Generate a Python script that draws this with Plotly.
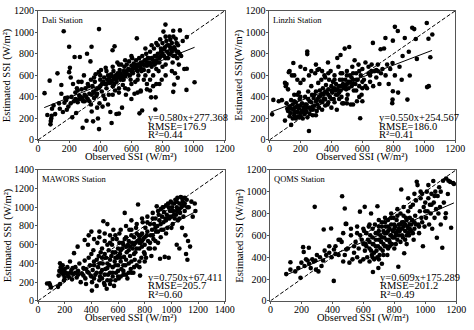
import plotly.graph_objects as go

# ---------------- data: (observed, estimated) pairs per station ----------------
dali_pts = [
    (42,435),(60,232),(75,551),(80,145),(82,175),(85,200),(88,225),(90,290),(100,320),(110,240),
    (125,619),(135,340),(140,290),(150,430),(150,510),(160,260),(165,1010),(170,345),(175,390),(180,370),
    (185,280),(190,395),(195,310),(200,866),(200,630),(205,670),(210,580),(210,340),(215,400),(220,210),
    (225,520),(230,360),(235,771),(240,440),(245,250),(250,375),
    (255,460),(260,540),(269,771),(270,380),(275,400),(280,470),(287,113),(290,360),(295,600),(300,420),
    (305,480),(312,179),(315,801),(320,380),(325,500),(330,430),(337,730),(340,560),(344,866),(345,265),
    (350,500),(354,173),(355,450),(360,390),(365,540),(370,610),(375,470),(380,430),(385,200),(390,630),
    (392,1030),(392,101),(395,340),(400,500),(400,560),(405,650),(410,450),(415,310),(420,410),(425,580),(430,520),
    (435,670),(440,480),(445,560),(450,600),(455,420),(460,530),(465,260),(470,610),(473,158),(475,550),
    (479,834),(480,500),(485,640),(490,570),(492,870),(495,460),(500,600),(504,241),(505,540),(510,720),
    (512,620),(515,580),(520,245),(520,480),(525,650),(530,560),(535,700),(540,600),(545,510),(550,640),
    (555,680),(560,590),(565,420),(570,700),(575,610),(580,470),(585,730),(590,650),(595,560),(600,690),(600,380),
    (605,760),(610,620),(615,710),(620,670),(625,540),(630,740),(635,944),(635,650),(640,700),(645,600),
    (650,760),(652,247),(655,680),(660,720),(665,640),(669,274),(670,780),(675,700),(680,650),(685,740),
    (690,600),(695,800),(700,690),(700,470),(705,760),(710,640),(715,720),(720,820),(727,396),(730,680),
    (735,750),(740,600),(745,850),(750,700),(754,283),(756,396),(760,780),(765,720),(770,880),(775,640),
    (780,760),(785,935),(790,820),(795,560),(800,900),
    (806,1007),(810,780),(815,860),(819,1072),(820,700),(825,920),(830,820),(835,760),(840,880),(845,960),
    (850,800),(855,840),(860,900),(865,720),(869,1015),(869,447),(875,515),(875,860),(880,780),(885,940),
    (890,820),(895,760),(898,578),(900,880),(905,700),(910,800),(912,1018),(920,780),(930,920),(940,660),
    (954,465),(956,956),(956,661),(1006,536),
    (240,380),(255,350),(265,410),(285,390),(300,360),(310,400),(330,360),(345,420),(360,440),(375,410),
    (390,480),(410,520),(420,540),(440,520),(450,560),(460,580),(470,540),(480,590),(490,520),(500,560),
    (510,580),(520,600),(530,620),(540,580),(550,560),(560,620),(570,640),(580,660),(590,600),(600,640),
    (610,660),(620,700),(630,680),(640,640),(650,700),(660,660),(670,720),(680,700),(690,740),(700,720),
    (710,760),(720,700),(730,760),(740,720),(750,780),(760,740),(770,800),(780,720),(790,780),(800,800),
    (810,840),(820,760),(830,880),(840,800),(850,860),(860,820),(870,780),(880,840),(890,900),(900,820),
    (760,660),(800,680),(720,560),(680,560),(640,560),(600,520),(560,480),(520,440),(480,420),(430,380),
    (380,300),(340,330),(450,330),(540,300),(620,430),(660,460),(700,520),(740,500),(780,520),(820,600),
    (860,640),(880,620),(690,850),(730,880),(760,900),(790,850),(820,960),(850,930),(870,960),(600,780),
    (560,740),(520,700),(480,680),(440,640),(400,600),(360,580),(320,520),(280,540),(250,480),
    (640,440),(660,450),(760,520),(720,460),
]

linzhi_pts = [
    (17,238),(25,372),(60,360),(80,370),(100,180),(100,530),(105,500),(110,340),(115,290),(120,470),
    (125,630),(130,220),(130,310),(135,250),(140,370),(140,140),(145,600),(150,200),(150,330),(154,715),
    (155,280),(160,420),(160,230),(165,300),(170,350),(170,200),(175,260),(180,560),(180,320),(185,220),
    (190,440),(190,290),(195,380),(200,250),(200,680),(205,210),(210,340),(215,200),(220,560),(220,300),
    (225,240),(230,660),(230,400),(235,270),(240,330),(244,822),(244,798),(245,210),(250,450),(255,83),
    (255,600),(260,360),(265,280),(270,500),(275,420),(280,230),
    (285,390),(290,320),(295,620),(300,450),(305,270),(310,650),(310,380),(315,530),(320,300),(325,460),
    (330,410),(335,560),(340,350),(345,480),(350,420),(355,600),(360,380),(365,510),(370,440),(375,330),
    (378,720),(380,470),(385,560),(390,400),(395,640),(400,500),(400,300),(405,440),(410,540),(415,380),
    (420,600),(425,460),(430,520),(435,280),(438,762),(440,420),(445,680),(450,500),(455,560),(459,789),
    (460,460),(465,400),(470,620),(475,520),(480,340),(486,849),(490,560),(495,470),(500,640),(505,420),
    (510,540),(515,864),(520,600),(525,330),(530,500),(535,680),(540,560),(545,460),(550,740),(555,520),
    (560,620),(565,360),(570,560),(575,700),(580,500),(586,202),(590,600),(595,420),(600,660),
    (610,560),(620,720),(630,480),(640,620),(650,540),(660,700),(668,902),(670,500),(680,640),(690,580),
    (700,700),(710,520),(718,843),(730,660),(740,850),(749,947),(750,600),(760,700),(770,520),(780,660),
    (793,342),(795,375),(795,715),(797,923),(797,453),(810,1051),(810,600),(829,1012),(831,440),(840,680),
    (854,560),(860,780),(874,947),(891,375),(900,820),(906,599),(922,1042),(935,1030),(945,938),(952,753),
    (1016,1087),(1018,491),(1027,941),(1029,500),(1039,768),(1052,980),
    (120,270),(140,290),(160,360),(180,260),(200,320),(210,270),(230,330),(250,380),(270,350),(290,420),
    (300,360),(320,400),(340,430),(360,450),(380,420),(400,460),(420,480),(440,470),(460,500),(480,480),
    (500,520),(520,540),(540,520),(560,560),(380,350),(350,380),(330,360),(310,330),(280,310),(260,300),
    (240,260),(220,260),(200,220),(190,210),(160,250),(430,420),(450,440),(470,560),(490,500),(510,480),
    (530,580),(420,350),(400,380),(360,320),(340,280),(300,230),(280,280),(260,240),(240,300),(200,400),
    (180,420),(450,380),(500,380),(560,460),(600,480),(620,500),(650,600),(690,650),(720,620),(580,640),
    (540,620),(500,600),(460,620),(420,560),(380,620),(340,640),(320,660),(270,640),(200,530),(160,600),
    (130,640),(110,520),(300,700),(360,580),(600,540),(640,680),(660,640),(700,640),
    (470,340),(500,340),(540,330),(600,360),(580,400),
]

mawors_pts = [
    (68,186),(85,189),(97,144),(90,170),(150,150),(165,180),(165,402),(170,360),(175,300),(180,330),
    (190,280),(200,250),(155,270),(160,320),(185,380),(200,340),(195,220),
    (210,300),(220,360),(230,260),(240,420),(250,330),(255,230),(260,290),(270,510),(280,360),(290,250),
    (297,579),(300,320),(310,400),(320,200),(330,290),(340,350),(350,430),(355,240),(360,180),(370,310),
    (375,600),(380,460),(390,380),(395,270),(400,500),(404,110),(400,740),(405,200),(410,330),(415,540),
    (420,420),(430,280),(440,160),(445,620),(450,360),(455,480),
    (460,740),(465,260),(470,300),(480,560),(485,400),(490,850),(495,190),(500,640),(505,340),(510,460),
    (515,130),(520,820),(525,280),(530,540),(535,380),(540,700),(545,220),(550,480),(555,600),(560,360),
    (565,760),(570,160),(575,420),(580,520),(585,300),(590,660),(595,460),(600,380),(600,560),
    (605,240),(610,720),(615,500),(620,420),(625,340),(630,560),(635,620),(640,280),(645,470),(650,940),
    (655,380),(660,680),(665,520),(670,240),(675,600),(680,400),(685,760),(690,480),(695,340),(700,860),
    (705,620),(710,560),(715,300),(720,680),(725,440),(730,520),(735,780),(740,380),(745,640),(750,1030),
    (755,700),(760,560),(765,270),(770,620),(775,460),(780,720),(785,840),(790,660),(795,520),(800,600),
    (805,780),(810,460),(815,700),(820,900),(825,640),(830,560),(840,820),(845,700),(850,480),(855,760),
    (860,940),(865,660),(870,820),(875,560),(880,880),(885,740),(890,1010),(895,800),(900,620),(905,920),
    (910,860),(915,450),(920,980),(925,760),(930,900),(935,1000),(940,840),(945,950),(950,470),(955,880),
    (960,1020),(965,920),(970,780),(975,1040),(980,460),(985,880),(990,960),(995,1060),(1000,900),
    (1005,1000),(1010,820),(1015,960),(1020,1040),(1025,880),(1030,1080),(1035,920),(1040,600),(1040,1000),
    (1045,1100),(1050,860),(1055,980),(1060,560),(1060,1040),(1065,940),(1070,1110),(1075,1000),(1080,780),
    (1085,1060),(1090,900),(1095,1020),(1100,960),(1105,700),(1110,500),(1115,1080),(1120,440),(1125,640),
    (1130,1000),(1140,580),(1150,1060),(1160,900),(1175,1040),(1180,960),
    (420,380),(440,300),(460,400),(480,330),(500,280),(520,400),(540,300),(560,260),(580,380),(600,320),
    (620,460),(640,380),(660,440),(680,540),(700,420),(720,500),(740,560),(760,620),(780,580),(800,680),
    (820,740),(840,620),(860,700),(880,780),(900,740),(920,820),(940,760),(960,860),(980,900),(1000,960),
    (1020,920),(1040,960),(1060,980),(1080,1020),(1100,1040),(480,460),(500,500),(520,350),(540,440),
    (560,520),(580,460),(600,480),(620,540),(640,600),(660,580),(680,640),(700,700),(720,600),(740,720),
    (760,660),(780,640),(300,280),(280,300),(260,350),(240,300),(220,280),(200,300),(340,270),(360,340),
    (380,300),(400,260),(420,240),(480,240),(520,220),(560,300),(600,260),(640,320),(680,300),(720,360),
    (760,420),(800,500),(350,650),(380,700),(420,660),(460,680),(500,720),(540,620),(580,700),(620,760),
    (660,800),(700,760),(740,820),(780,880),(820,840),(860,880),(900,960),(940,1000),(980,1000),(1000,1050),
    (1040,1060),(1080,1100),(1120,1000),(1100,1100),(1060,880),(1000,780),(960,720),(920,680),(880,640),
    (840,560),(800,420),(760,360),(700,300),(660,280),(620,260),(580,220),(540,180),(500,170),(460,220),
    (440,440),(470,520),(520,600),(560,660),(610,620),(650,660),(690,580),(730,620),(770,700),
]

qoms_pts = [
    (102,245),(129,286),(129,354),(160,270),(180,300),(194,212),(200,350),(211,492),(215,448),(220,320),
    (240,370),(248,486),(250,340),(270,380),(286,861),(290,370),(294,286),(310,270),(330,320),(344,654),
    (360,420),(380,440),(392,663),(395,400),(409,183),(410,470),(420,430),(440,420),(450,560),(460,540),
    (463,958),(470,360),(480,846),(480,420),(486,705),(490,705),(490,470),(500,480),(510,350),(520,600),
    (530,380),(540,440),(550,540),(560,400),(570,480),(578,817),(580,360),(590,560),(600,380),(605,640),
    (609,861),(610,460),
    (615,520),(620,620),(625,400),(630,560),(635,680),(640,480),(645,600),(650,800),(655,420),(660,660),
    (662,265),(665,520),(670,380),(675,700),(680,560),(685,460),(690,620),(691,867),(695,500),(697,301),
    (700,680),(705,420),(710,600),(715,540),(720,720),(725,460),(730,640),(735,580),(740,500),(745,680),
    (750,620),(755,420),(760,740),(765,560),(770,660),(775,600),(780,700),(785,520),(790,640),(795,760),(800,580),
    (805,680),(810,620),(815,740),(820,560),(826,312),(830,700),(835,640),(840,800),(845,1020),(850,660),
    (855,580),(860,720),(864,436),(870,640),(875,760),(880,520),(885,680),(890,820),(895,600),(900,700),
    (905,860),(910,640),(915,740),(920,880),(925,560),(930,660),(935,780),(940,920),(945,1091),(950,1060),
    (955,700),(960,620),(965,820),(970,940),(975,760),(980,980),(985,500),(990,860),(995,680),(1000,900),
    (1005,760),(1010,1000),(1015,820),(1020,940),(1025,700),(1030,880),(1035,800),(1040,980),(1045,660),
    (1052,1097),(1055,900),(1060,760),(1065,1000),(1070,840),(1075,578),(1080,960),(1085,800),(1090,1040),
    (1095,860),(1100,700),(1110,486),(1115,1100),(1120,900),(1133,802),(1130,760),(1135,1120),(1146,979),
    (1150,1100),(1160,1090),(1167,669),(1180,1080),(1185,1070),
    (620,500),(640,540),(660,580),(680,620),(700,560),(720,580),(740,620),(760,640),(780,600),(800,660),
    (820,640),(840,700),(860,680),(880,740),(900,760),(650,460),(670,440),(690,400),(710,480),(730,420),
    (750,500),(770,540),(790,580),(810,520),(830,600),(850,720),(870,700),(890,660),(910,700),(930,720),
    (640,360),(660,400),(700,380),(720,340),(760,480),(800,480),(840,540),(880,600),(920,620),(960,680),
    (600,520),(580,600),(560,620),(540,500),(700,640),(720,680),(740,720),(760,680),(780,760),(800,700),
    (820,780),(860,780),(900,660),(940,700),(980,720),(1000,820),(1040,880),(1060,960),(1100,1000),(1020,1060),
    (970,1000),(930,980),(890,940),(860,860),(820,840),(780,800),(740,760),(700,740),(640,700),(600,660),
    (560,680),(520,660),(470,620),(440,560),(420,500),(380,500),(350,460),(320,400),(280,360),(260,300),
    (230,380),(300,420),(340,370),(660,520),(680,500),(730,520),(750,560),(770,500),(810,600),(830,660),
    (850,600),(870,560),(890,620),
]

stations = ["Dali Station", "Linzhi Station", "MAWORS Station", "QOMS Station"]
point_sets = [dali_pts, linzhi_pts, mawors_pts, qoms_pts]
slopes = [0.580, 0.550, 0.750, 0.609]
intercepts = [277.368, 254.567, 67.411, 175.289]
rmse = [176.9, 186.0, 205.7, 201.2]
r2 = [0.44, 0.41, 0.60, 0.49]
fit_x_range = [(40, 1006), (10, 1050), (70, 1180), (100, 1185)]
axis_max = [1200, 1200, 1400, 1200]
y_titles = ["Estimated SSI (W/m²)", "Estimated SSI(W/m²)",
            "Estimated SSI (W/m²)", "Estimated SSI (W/m²)"]
x_title = "Observed SSI (W/m²)"

# ---------------- layout geometry (pixels -> paper fractions) ----------------
W, H = 474, 330
x_doms = [(36, 228), (274, 465), (36, 228), (275, 466)]   # left, right
y_doms = [(5, 139), (5, 139), (170, 306), (170, 306)]     # top, bottom

FONT = "Liberation Serif, Times New Roman, serif"
fig = go.Figure()
annotations = []

for i in range(4):
    xa = "x" if i == 0 else f"x{i+1}"
    ya = "y" if i == 0 else f"y{i+1}"
    pts = point_sets[i]
    obs = [p[0] for p in pts]
    est = [p[1] for p in pts]
    m = axis_max[i]

    fig.add_trace(go.Scatter(x=obs, y=est, mode="markers", xaxis=xa, yaxis=ya,
                             marker=dict(color="black", size=4.6, line=dict(width=0)),
                             showlegend=False, hoverinfo="skip"))
    # 1:1 reference line
    fig.add_trace(go.Scatter(x=[0, m], y=[0, m], mode="lines", xaxis=xa, yaxis=ya,
                             line=dict(color="black", width=1, dash="4px,2px"),
                             showlegend=False, hoverinfo="skip"))
    # linear fit
    x0, x1 = fit_x_range[i]
    fig.add_trace(go.Scatter(x=[x0, x1],
                             y=[slopes[i] * x0 + intercepts[i], slopes[i] * x1 + intercepts[i]],
                             mode="lines", xaxis=xa, yaxis=ya,
                             line=dict(color="black", width=1),
                             showlegend=False, hoverinfo="skip"))

    (l, r), (t, b) = x_doms[i], y_doms[i]
    ax_common = dict(showgrid=False, zeroline=False, showline=True, mirror=True,
                     linecolor="#555555", linewidth=1, ticks="outside", ticklen=2,
                     tickcolor="#555555", tickfont=dict(family=FONT, size=10, color="black"))
    fig.layout[("xaxis" if i == 0 else f"xaxis{i+1}")] = dict(
        domain=[l / W, r / W], range=[0, m], dtick=200, anchor=ya,
        ticklabelstandoff=-3, **ax_common)
    fig.layout[("yaxis" if i == 0 else f"yaxis{i+1}")] = dict(
        domain=[1 - b / H, 1 - t / H], range=[0, m], dtick=200, anchor=xa,
        ticklabelstandoff=-1, **ax_common)

    # station label
    annotations.append(dict(text=stations[i], xref=f"{xa} domain", yref=f"{ya} domain",
                            x=0.01, y=0.985, xanchor="left", yanchor="top", showarrow=False,
                            font=dict(family=FONT, size=8.5, color="black")))
    # fit statistics
    stats = [f"y={slopes[i]:.3f}x+{intercepts[i]:.3f}", f"RMSE={rmse[i]:.1f}", f"R²={r2[i]:.2f}"]
    for k, s in enumerate(stats):
        annotations.append(dict(text=s, xref=f"{xa} domain", yref=f"{ya} domain",
                                x=0.58, y=(0.17 if i < 2 else 0.18) - k * 0.064,
                                xanchor="left", yanchor="middle", showarrow=False,
                                font=dict(family=FONT, size=10.5, color="black")))
    # axis titles
    annotations.append(dict(text=x_title, xref="paper", yref="paper",
                            x=(l + r) / 2 / W, y=1 - (b + 18) / H,
                            xanchor="center", yanchor="middle", showarrow=False,
                            font=dict(family=FONT, size=10.5, color="black")))
    annotations.append(dict(text=y_titles[i], xref="paper", yref="paper",
                            x=(l - 31) / W, y=1 - (t + b) / 2 / H, textangle=-90,
                            xanchor="center", yanchor="middle", showarrow=False,
                            font=dict(family=FONT, size=10.5, color="black")))

fig.update_layout(width=W, height=H, margin=dict(l=0, r=0, t=0, b=0),
                  paper_bgcolor="white", plot_bgcolor="white",
                  annotations=annotations, font=dict(family=FONT))
fig.write_html("out.html")
